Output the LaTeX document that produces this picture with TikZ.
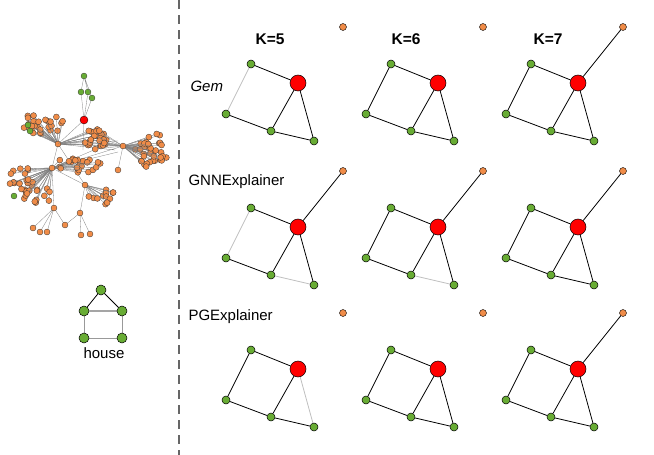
\documentclass[tikz,border=0pt]{standalone}
\usepackage{fontspec}
\setmainfont{Liberation Sans}
\definecolor{gcol}{RGB}{104,172,52}
\definecolor{ocol}{RGB}{240,140,72}
\begin{document}
\begin{tikzpicture}[x=1pt,y=-1pt,
  gn/.style={circle,draw=black,line width=0.5pt,fill=gcol,inner sep=0pt,minimum size=8pt},
  rn/.style={circle,draw=black,line width=0.5pt,fill=red,inner sep=0pt,minimum size=16pt},
  on/.style={circle,draw=black,line width=0.4pt,fill=ocol,inner sep=0pt,minimum size=7pt},
  sn/.style={circle,draw=black!80,line width=0.3pt,fill=ocol,inner sep=0pt,minimum size=6pt},
  sg/.style={circle,draw=black!80,line width=0.3pt,fill=gcol,inner sep=0pt,minimum size=6pt},
  sr/.style={circle,draw=black,line width=0.3pt,fill=red,inner sep=0pt,minimum size=8pt},
  hl/.style={draw=black!50,line width=0.3pt},
  dk/.style={draw=black,line width=0.8pt},
  lt/.style={draw=black!25,line width=0.8pt},
  no/.style={draw=none},
  lab/.style={font=\fontsize{15}{15}\selectfont,anchor=west},
  kl/.style={font=\bfseries\fontsize{15.5}{15.5}\selectfont}]
\pgfdeclarelayer{bg}\pgfsetlayers{bg,main}
\useasboundingbox (0,0) rectangle (654,455);
\draw[black!60,line width=1.2pt,dash pattern=on 9pt off 6pt] (179,0) -- (179,455);

% ---- left network ----
\pgfmathsetseed{7}
\coordinate (hA) at (58,144);
\coordinate (hB) at (123,146);
\coordinate (hC) at (52,168);
\coordinate (hD) at (85,185);
\coordinate (hE) at (54,208);
\coordinate (hF) at (80,213);
\newcommand\mycluster[6]{% hub, cx, cy, rx, ry, n
  \foreach \i in {1,...,#6}{
    \pgfmathsetmacro\ang{rnd*360}
    \pgfmathsetmacro\rr{sqrt(rnd)}
    \pgfmathsetmacro\px{#2+#4*\rr*cos(\ang)}
    \pgfmathsetmacro\py{#3+#5*\rr*sin(\ang)}
    \draw[hl] (#1) -- (\px,\py);
    \node[sn] at (\px,\py) {};
  }}
\draw[hl] (hA) -- (hB) (hA) -- (115,150) (hA) -- (118,141) (hC) -- (hB) (hC) -- (118,152) (hC) -- (110,143) (hA) -- (hC);
\draw[hl] (hC) -- (hE) (hD) -- (hF) (hB) -- (118,170) (hC) -- (hD) (hA) -- (hD);
\mycluster{hA}{42}{124}{22}{11}{26}
\mycluster{hA}{95}{138}{12}{9}{14}
\mycluster{hB}{95}{140}{12}{10}{12}
\mycluster{hB}{152}{150}{17}{18}{36}
\mycluster{hC}{22}{180}{13}{13}{22}
\mycluster{hC}{78}{165}{24}{8}{22}
\mycluster{hC}{38}{195}{20}{8}{12}
\mycluster{hD}{98}{197}{22}{8}{12}
\draw[hl] (hE) -- (33,228) (hE) -- (40,232) (hE) -- (47,232) (hE) -- (65,225) (hF) -- (65,225) (hF) -- (81,235) (hF) -- (90,234);
\foreach \p in {(33,228),(40,232),(47,232),(65,225),(81,235),(90,234),(118,170)} \node[sn] at \p {};
\node[sn] at (hE) {}; \node[sn] at (hF) {}; \node[sn] at (hD) {};
\node[sn] at (hA) {}; \node[sn] at (hB) {}; \node[sn] at (hC) {};
\node[sr] (red) at (84,120) {};
\node[sg] (g1) at (84,76) {}; \node[sg] (g2) at (81,92) {}; \node[sg] (g3) at (88,92) {}; \node[sg] (g4) at (92,98) {};
\draw[hl] (g1) -- (g2) (g1) -- (g3) (g1) -- (g4) (g2) -- (red) (g3) -- (red) (g4) -- (red) (red) -- (hA) (red) -- (83,150);
\node[sg] at (28,125) {}; \node[sg] at (30,131) {}; \node[sg] at (14,196) {};

% house
\node[gn,minimum size=10pt] (ht) at (101,290) {};
\node[gn,minimum size=10pt] (hl) at (84,311) {};
\node[gn,minimum size=10pt] (hr) at (122,311) {};
\node[gn,minimum size=10pt] (hbl) at (84,338) {};
\node[gn,minimum size=10pt] (hbr) at (122,338) {};
\begin{pgfonlayer}{bg}
\draw[dk] (ht) -- (hl) (ht) -- (hr) (hl) -- (hr);
\draw[draw=black!40,line width=1pt] (hl) -- (hbl) -- (hbr) -- (hr);
\end{pgfonlayer}
\node[font=\fontsize{15}{15}\selectfont] (hlab) at (104,353) {house};

% ---- panels ----
\newcommand\pan[3]{% name dx dy
  \begin{scope}[shift={(#2,#3)}]
    \node[gn] (#1t) at (251,64) {};
    \node[gn] (#1l) at (226,114) {};
    \node[gn] (#1b) at (271,131) {};
    \node[gn] (#1r) at (314,141) {};
    \node[on] (#1o) at (343,27) {};
    \node[rn] (#1c) at (298,83) {};
  \end{scope}}
\newcommand\edg[8]{% name, 7 styles
  \begin{pgfonlayer}{bg}
  \draw[#2] (#1t) -- (#1c); \draw[#3] (#1t) -- (#1l); \draw[#4] (#1l) -- (#1b);
  \draw[#5] (#1b) -- (#1c); \draw[#6] (#1c) -- (#1r); \draw[#7] (#1b) -- (#1r);
  \draw[#8] (#1c) -- (#1o);
  \end{pgfonlayer}}
\pan{a}{0}{0}\pan{b}{140}{0}\pan{c}{280}{0}
\pan{d}{0}{144}\pan{e}{140}{144}\pan{f}{280}{144}
\pan{g}{0}{286}\pan{h}{140}{286}\pan{i}{280}{286}
\edg{a}{dk}{lt}{dk}{dk}{dk}{dk}{no}
\edg{b}{dk}{dk}{dk}{dk}{dk}{dk}{no}
\edg{c}{dk}{dk}{dk}{dk}{dk}{dk}{dk}
\edg{d}{dk}{lt}{dk}{dk}{dk}{lt}{dk}
\edg{e}{dk}{dk}{dk}{dk}{dk}{lt}{dk}
\edg{f}{dk}{dk}{dk}{dk}{dk}{dk}{dk}
\edg{g}{dk}{dk}{dk}{dk}{lt}{dk}{no}
\edg{h}{dk}{dk}{dk}{dk}{dk}{dk}{no}
\edg{i}{dk}{dk}{dk}{dk}{dk}{dk}{dk}

\node[kl] (k5) at (270,39) {K=5};
\node[kl] (k6) at (406,39) {K=6};
\node[kl] (k7) at (548,39) {K=7};
\node[lab,font=\itshape\fontsize{15}{15}\selectfont] (lg) at (187,86) {Gem};
\node[lab] (lgnn) at (185,182) {GNNExplainer};
\node[lab] (lpg) at (185,317) {PGExplainer};
\end{tikzpicture}
\end{document}
